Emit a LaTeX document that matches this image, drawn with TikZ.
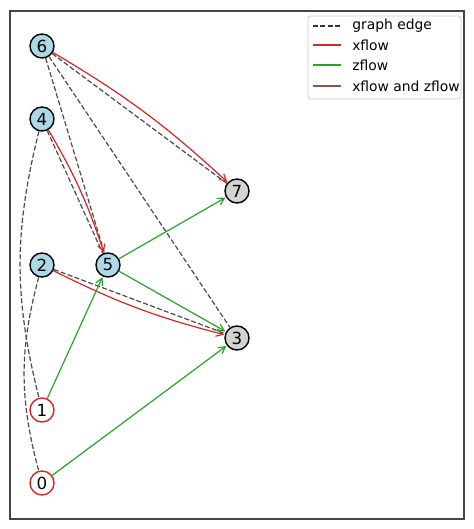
\documentclass[tikz,border=0pt]{standalone}
\usepackage{fontspec}
\setmainfont{DejaVu Sans}
\usetikzlibrary{arrows.meta}
\definecolor{nblue}{RGB}{173,216,230}
\definecolor{ngray}{RGB}{211,211,211}
\definecolor{xred}{RGB}{214,39,40}
\definecolor{zgreen}{RGB}{44,160,44}
\definecolor{xzbrown}{RGB}{140,86,75}
\definecolor{gedge}{RGB}{75,75,75}
\definecolor{frame}{RGB}{70,70,70}
\tikzset{
  vtx/.style={circle, draw=black, line width=1.05pt, minimum size=18pt, inner sep=0pt, font=\fontsize{12.5}{14}\selectfont},
  src/.style={vtx, fill=nblue},
  tgt/.style={vtx, fill=ngray},
  anc/.style={vtx, draw=xred, fill=white},
  gedgeline/.style={draw=gedge, line width=0.9pt, dash pattern=on 3.8pt off 1.7pt},
  xline/.style={draw=xred, line width=0.9pt, -{Straight Barb[length=5pt,width=5.5pt]}, shorten >=0.5pt},
  zline/.style={draw=zgreen, line width=0.9pt, -{Straight Barb[length=5pt,width=5.5pt]}, shorten >=0.5pt},
  legtext/.style={anchor=west, inner sep=0pt, font=\fontsize{10.4}{12}\selectfont}
}
\begin{document}
\begin{tikzpicture}[x=0.75pt, y=-0.75pt]
\useasboundingbox (0,0) rectangle (474,529);
\draw[frame, line width=1pt] (10,11) rectangle (464,519);

\node[src] (n6) at (42,46) {6};
\node[src] (n4) at (42,119) {4};
\node[src] (n2) at (42,265) {2};
\node[src] (n5) at (108,265) {5};
\node[tgt] (n7) at (237,191) {7};
\node[tgt] (n3) at (237,338) {3};
\node[anc] (n1) at (42,410) {1};
\node[anc] (n0) at (42,483) {0};

% graph edges
\draw[gedgeline] (n6) -- (n7);
\draw[gedgeline] (n6) -- (n3);
\draw[gedgeline] (n6) -- (n5);
\draw[gedgeline] (n4) -- (n5);
\draw[gedgeline] (n2) -- (n3);
\draw[gedgeline] (n4) to[bend right=14] (n1);
\draw[gedgeline] (n2) to[bend right=15] (n0);

% xflow
\draw[xline] (n6) to[bend left=6] (n7);
\draw[xline] (n4) to[bend left=6] (n5);
\draw[xline] (n2) to[bend right=6] (n3);

% zflow
\draw[zline] (n5) -- (n7);
\draw[zline] (n5) -- (n3);
\draw[zline] (n1) -- (n5);
\draw[zline] (n0) -- (n3);

% legend
\draw[draw=black!20, fill=white, fill opacity=0.8, rounded corners=2pt, line width=0.6pt] (308,16) rectangle (461,99);
\coordinate (l1a) at (313,26); \coordinate (l1b) at (341,26);
\coordinate (l2a) at (313,45); \coordinate (l2b) at (341,45);
\coordinate (l3a) at (313,65); \coordinate (l3b) at (341,65);
\coordinate (l4a) at (313,86); \coordinate (l4b) at (341,86);
\draw[gedgeline, draw=black!80, line width=1.1pt] (l1a) -- (l1b);
\draw[draw=xred, line width=1.1pt] (l2a) -- (l2b);
\draw[draw=zgreen, line width=1.1pt] (l3a) -- (l3b);
\draw[draw=xzbrown, line width=1.1pt] (l4a) -- (l4b);
\node[legtext] (t1) at (352,26) {graph edge};
\node[legtext] (t2) at (352,45) {xflow};
\node[legtext] (t3) at (352,65) {zflow};
\node[legtext] (t4) at (352,86) {xflow and zflow};
\end{tikzpicture}
\end{document}
